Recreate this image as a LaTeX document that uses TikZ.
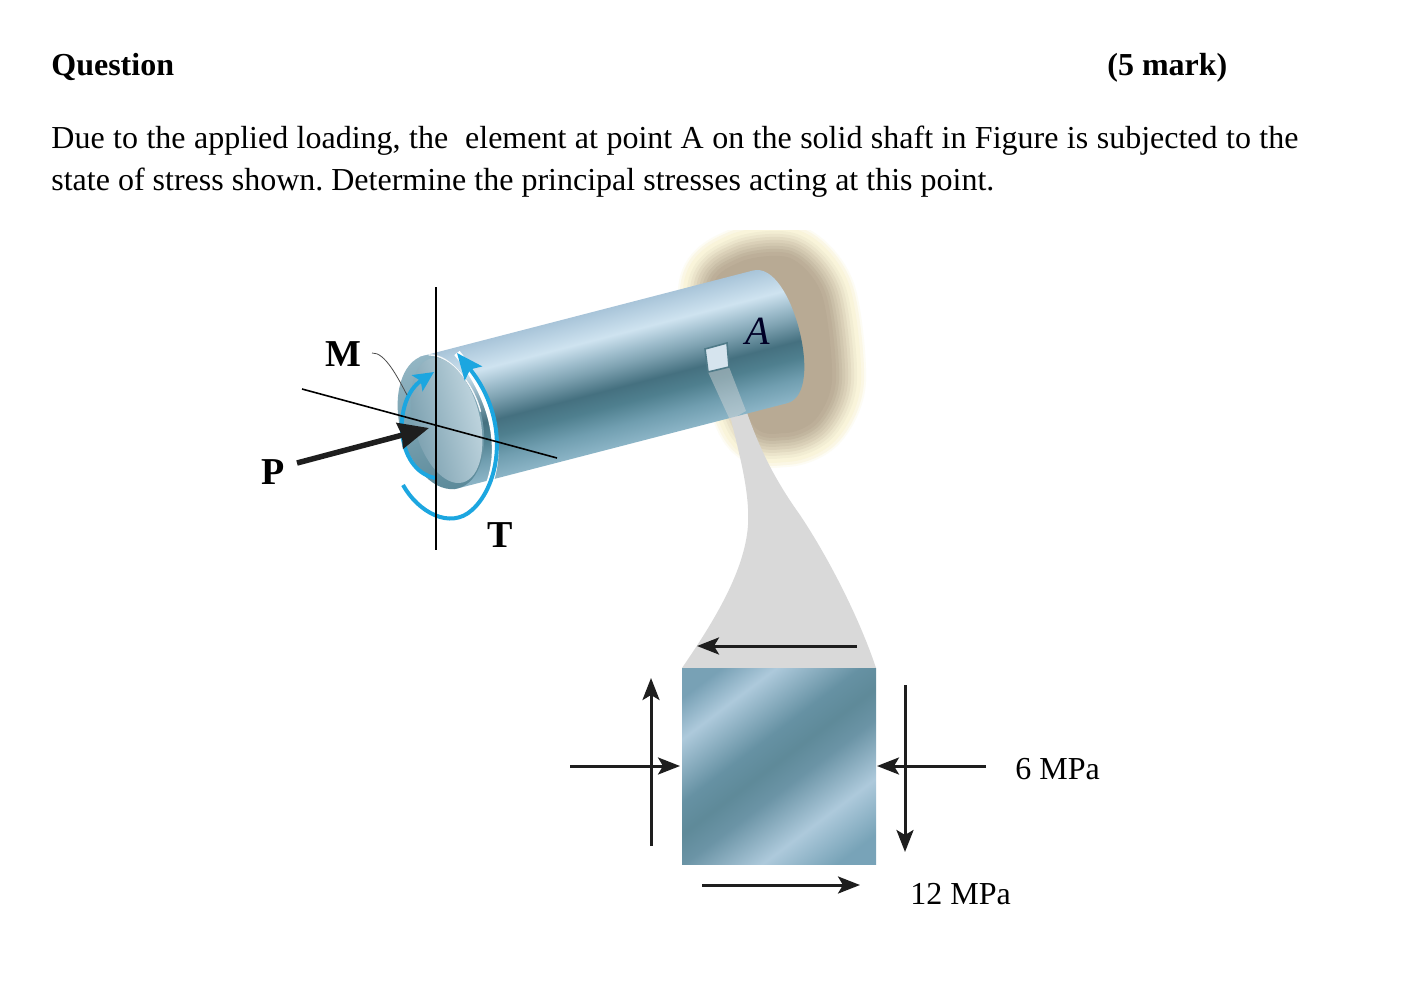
\documentclass[tikz,border=0pt]{standalone}
\usepackage{fontspec}
\setmainfont{Liberation Serif}
\usetikzlibrary{arrows.meta}
\definecolor{stainbrown}{HTML}{B8AA94}
\definecolor{stainpale}{HTML}{F9F4DA}
\definecolor{funnelgray}{HTML}{D9D9D9}
\definecolor{torqueblue}{HTML}{1CA6E0}
\definecolor{elementfill}{HTML}{D6E4EE}
\definecolor{elementedge}{HTML}{4F7A88}
\definecolor{faceleft}{HTML}{7FA3B2}
\definecolor{faceright}{HTML}{BDD3DD}
\definecolor{rimtop}{HTML}{93B6C4}
\definecolor{rimbottom}{HTML}{5C8A9A}
\definecolor{loadblack}{HTML}{1E1E1E}
\pgfdeclareverticalshading{shaftsteel}{100bp}{
  rgb(0bp)=(.55,.71,.78); rgb(25bp)=(.55,.71,.78);
  rgb(32.5bp)=(.44,.62,.69); rgb(40bp)=(.31,.50,.56); rgb(46bp)=(.27,.44,.50);
  rgb(54bp)=(.50,.64,.70); rgb(58.5bp)=(.62,.74,.80); rgb(65bp)=(.81,.89,.94);
  rgb(75bp)=(.66,.77,.85); rgb(100bp)=(.66,.77,.85)}
\pgfdeclareverticalshading{elementsteel}{100bp}{
  rgb(0bp)=(.47,.64,.72); rgb(21bp)=(.47,.64,.72); rgb(32.5bp)=(.68,.79,.86);
  rgb(44.6bp)=(.42,.58,.65); rgb(51bp)=(.37,.54,.60); rgb(57.5bp)=(.40,.57,.64);
  rgb(70.5bp)=(.68,.79,.86); rgb(79bp)=(.47,.63,.71); rgb(100bp)=(.47,.63,.71)}
\tikzset{
  x=0.5pt, y=-0.5pt,
  body/.style={font=\fontsize{16}{21}\selectfont, anchor=west, inner sep=0pt},
  loadlabel/.style={font=\fontsize{19}{19}\selectfont\bfseries, inner sep=0pt},
  stresslabel/.style={font=\fontsize{16}{21}\selectfont, anchor=west, inner sep=0pt},
  stain/.style={line width=#1*0.5pt, line join=round},
  loadarrow/.style={line width=1.5pt, loadblack, -{Stealth[length=11pt,width=8.5pt,inset=2.5pt]}},
  axisline/.style={line width=1pt, black},
  torquearrow/.style={line width=2pt, torqueblue, -{Stealth[length=13pt,width=11pt,inset=2.5pt]}},
}
\newcommand{\stainpath}{plot[smooth cycle] coordinates {(712,295) (740,262) (790,258) (822,295) (832,380) (815,420) (785,433) (750,420)}}
\begin{document}
\begin{tikzpicture}
    \useasboundingbox[fill=white] (0,0) rectangle (1416,1000);
    \node[body, font=\fontsize{16}{21}\selectfont\bfseries] (title) at (51,67) {Question};
    \node[body, font=\fontsize{16}{21}\selectfont\bfseries] (mark) at (1107,68) {(5 mark)};
    \node[body] (lineone) at (51,140.5) {\frenchspacing\makebox[623.5pt][s]{Due to the applied loading, the\ \ element at point A on the solid shaft in Figure is subjected to the}};
    \node[body] (linetwo) at (51,182.5) {\frenchspacing state of stress shown. Determine the principal stresses acting at this point.};
% wall
  \begin{scope}
    \clip (660,230) rectangle (880,480);
    \draw[stain=68, draw=stainpale!30!white, fill=stainpale!30!white] \stainpath;
    \draw[stain=64, draw=stainpale!70!white, fill=stainpale!70!white] \stainpath;
    \draw[stain=58, draw=stainpale, fill=stainpale] \stainpath;
    \draw[stain=50, draw=stainbrown!10!stainpale, fill=stainbrown!10!stainpale] \stainpath;
    \draw[stain=44, draw=stainbrown!22!stainpale, fill=stainbrown!22!stainpale] \stainpath;
    \draw[stain=38, draw=stainbrown!35!stainpale, fill=stainbrown!35!stainpale] \stainpath;
    \draw[stain=32, draw=stainbrown!48!stainpale, fill=stainbrown!48!stainpale] \stainpath;
    \draw[stain=26, draw=stainbrown!60!stainpale, fill=stainbrown!60!stainpale] \stainpath;
    \draw[stain=20, draw=stainbrown!72!stainpale, fill=stainbrown!72!stainpale] \stainpath;
    \draw[stain=14, draw=stainbrown!84!stainpale, fill=stainbrown!84!stainpale] \stainpath;
    \draw[stain=8, draw=stainbrown!93!stainpale, fill=stainbrown!93!stainpale] \stainpath;
    \fill[stainbrown] \stainpath;
  \end{scope}
% funnel down to the element
    \fill[funnelgray] (730,415) .. controls (738,450) and (750,490) .. (748,525) .. controls (745,570) and (715,620) .. (682,668) -- (876,668) .. controls (860,620) and (830,560) .. (800,515) .. controls (775,480) and (760,450) .. (746,410) -- cycle;
% shaft
  \begin{scope}[transform canvas={rotate around={14.5:(437,423)}}]
    \shade[shading=shaftsteel] (437,354.5) -- (781,354.5) .. controls (802,354.5) and (811,390) .. (811,423) .. controls (811,456) and (802,491.5) .. (781,491.5) -- (437,491.5) -- cycle;
    \shade[top color=rimtop, bottom color=rimbottom] (441,423) ellipse [x radius=41, y radius=68.5];
    \draw[white!70!elementfill, line width=0.7pt] (446,355) .. controls (468,360) and (482,395) .. (482,423);
    \shade[left color=faceleft, right color=faceright] (447,423) ellipse [x radius=33, y radius=64];
  \end{scope}
    \coordinate (elemNW) at (705,349);
    \coordinate (elemNE) at (727,343);
    \coordinate (elemSE) at (729,367);
    \coordinate (elemSW) at (708,372);
    \fill[funnelgray, opacity=.45] (elemSW) -- (elemSE) -- (746,411) -- (730,420) -- cycle;
    \draw[draw=elementedge, fill=elementfill, line width=0.8pt] (elemNW) -- (elemNE) -- (elemSE) -- (elemSW) -- cycle;
    \node[font=\fontsize{20}{20}\selectfont\itshape, text=black!85!blue, inner sep=0pt] (pointA) at (758,331) {A};
% axes and loads
    \coordinate (axisTop) at (436,287);
    \coordinate (axisBot) at (436,550);
    \coordinate (axisLeft) at (302,389);
    \coordinate (axisRight) at (557,458);
    \coordinate (mA) at (372,353);
    \coordinate (mB) at (407,395);
    \coordinate (pStart) at (297,463);
    \coordinate (pEnd) at (429,428);
    \coordinate (innerStart) at (435,478);
    \coordinate (innerEnd) at (434,372);
    \coordinate (outerStart) at (403,485);
    \coordinate (outerEnd) at (457,353);
    \draw[white, line width=3.4pt] (outerStart) .. controls (418,512) and (450,530) .. (472,510) .. controls (500,485) and (511,420) .. (outerEnd);
    \draw[torquearrow, -{Stealth[length=10pt,width=9.5pt,inset=2pt]}] (innerStart) .. controls (395,470) and (392,400) .. (innerEnd);
    \draw[torquearrow] (outerStart) .. controls (418,512) and (450,530) .. (472,510) .. controls (500,485) and (511,420) .. (outerEnd);
    \draw[axisline] (axisTop) -- (axisBot);
    \draw[axisline, line width=.8pt] (axisLeft) -- (axisRight);
    \draw[black!70, line width=.4pt] (mA) .. controls (385,352) and (398,378) .. (mB);
    \draw[loadblack, line width=2.75pt, -{Stealth[length=15pt,width=13pt,inset=1pt]}] (pStart) -- (pEnd);
    \node[loadlabel] (labelM) at (343,354) {M};
    \node[loadlabel] (labelP) at (273,472) {P};
    \node[loadlabel] (labelT) at (500,535) {T};
% element
    \fill[shading=elementsteel, shading angle=37] (682,668) rectangle (876,864);
    \coordinate (topR) at (857,646);
    \coordinate (topL) at (697,646);
    \coordinate (botL) at (702,885);
    \coordinate (botR) at (860,885);
    \coordinate (leftD) at (651,846);
    \coordinate (leftU) at (651,678);
    \coordinate (rightU) at (905,685);
    \coordinate (rightD) at (905,852);
    \coordinate (leftO) at (570,766);
    \coordinate (leftI) at (680,766);
    \coordinate (rightO) at (986,766);
    \coordinate (rightI) at (877,766);
    \draw[loadarrow] (topR) -- (topL);
    \draw[loadarrow] (botL) -- (botR);
    \draw[loadarrow] (leftD) -- (leftU);
    \draw[loadarrow] (rightU) -- (rightD);
    \draw[loadarrow] (leftO) -- (leftI);
    \draw[loadarrow] (rightO) -- (rightI);
    \node[stresslabel] (sixMPa) at (1015,769) {6 MPa};
    \node[stresslabel] (twelveMPa) at (910,894) {12 MPa};
\end{tikzpicture}
\end{document}
